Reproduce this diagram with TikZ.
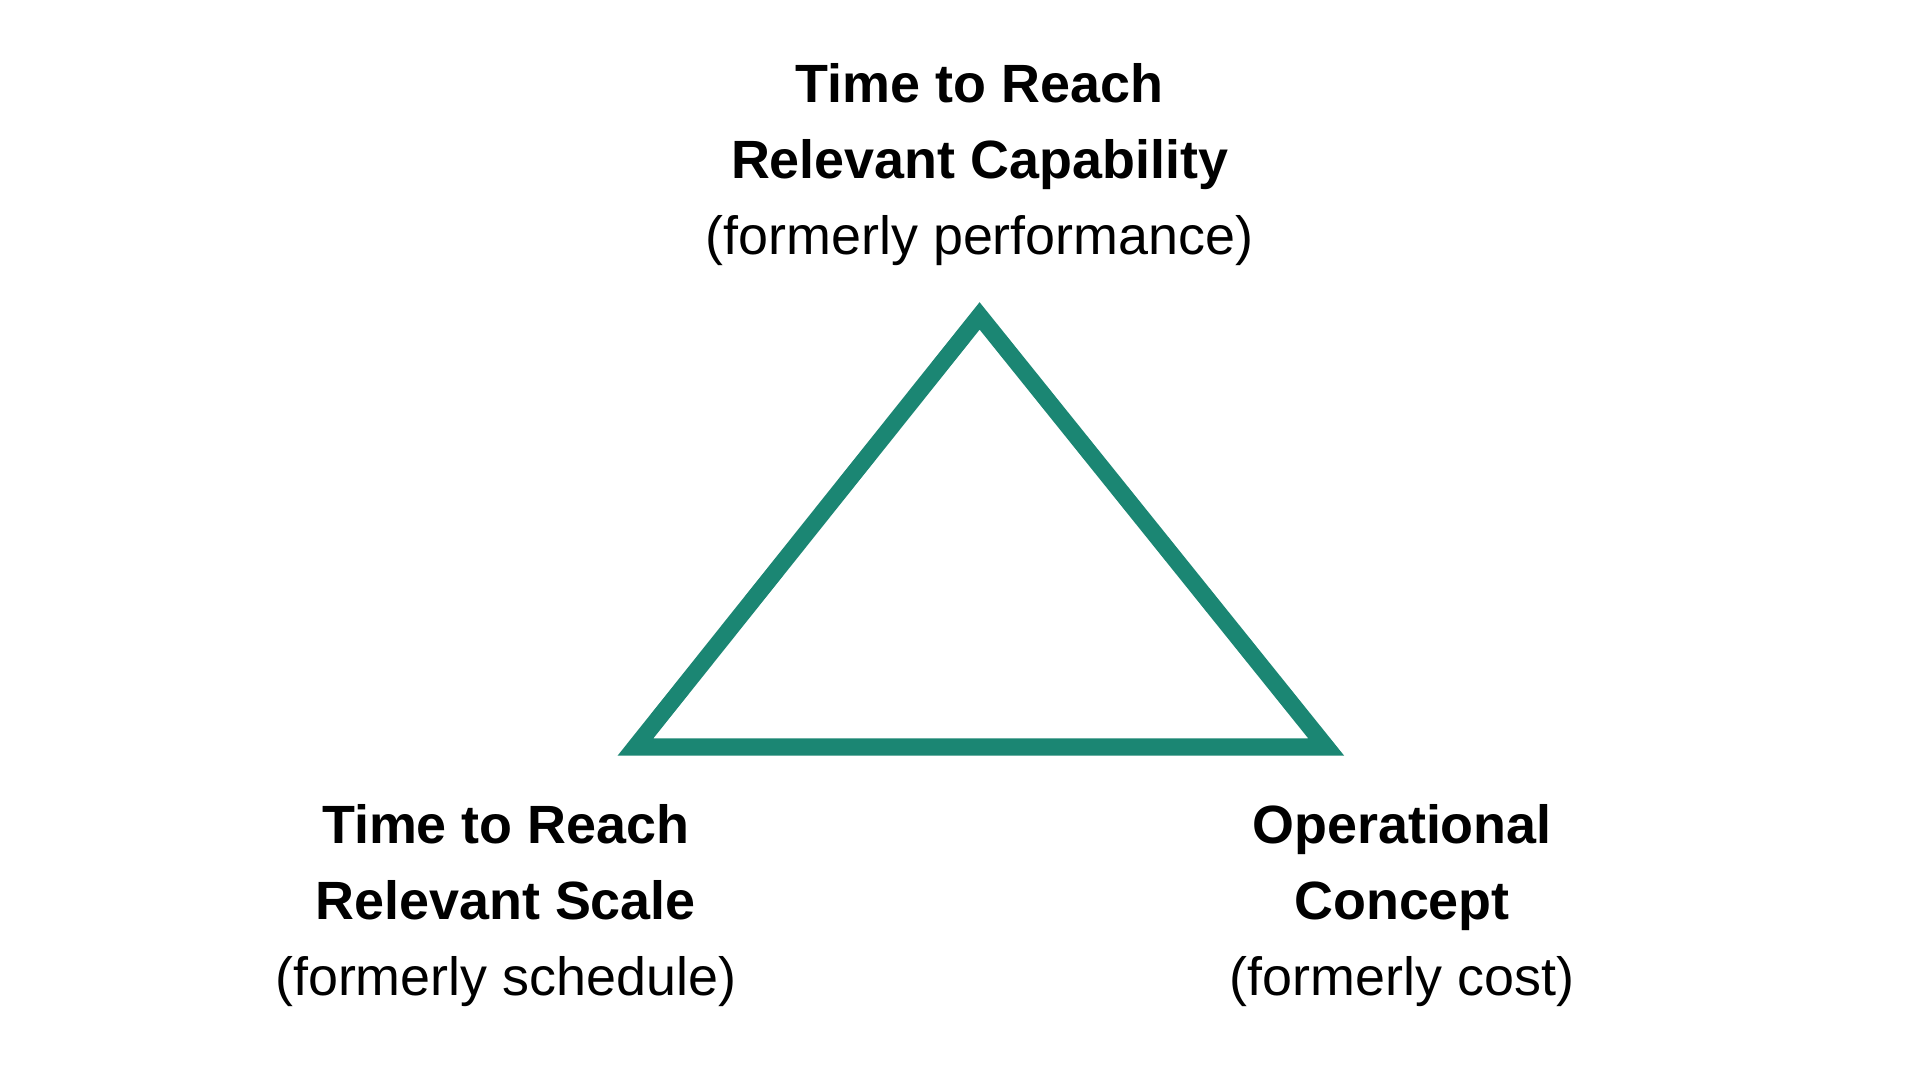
\documentclass[tikz,border=0pt]{standalone}
\usepackage{fontspec}
\setmainfont{Liberation Sans}
\definecolor{teal}{RGB}{27,134,115}
\begin{document}
\begin{tikzpicture}[x=1pt,y=-1pt,
    corner/.style={align=center,inner sep=0pt,anchor=north,
      font=\fontsize{44}{62}\selectfont\bfseries}]
  \useasboundingbox[fill=white] (0,0) rectangle (1568,882);

  \coordinate (top) at (800,258);
  \coordinate (left) at (519,610);
  \coordinate (right) at (1083,610);
  \draw[teal,line width=14pt,miter limit=10] (top) -- (right) -- (left) -- cycle;

  \node[corner] (cap) at (800,52) {Time to Reach\\Relevant Capability\\{\mdseries (formerly performance)}};
  \node[corner] (scale) at (413,657) {Time to Reach\\Relevant Scale\\{\mdseries (formerly schedule)}};
  \node[corner] (ops) at (1145,657) {Operational\\Concept\\{\mdseries (formerly cost)}};
\end{tikzpicture}
\end{document}
